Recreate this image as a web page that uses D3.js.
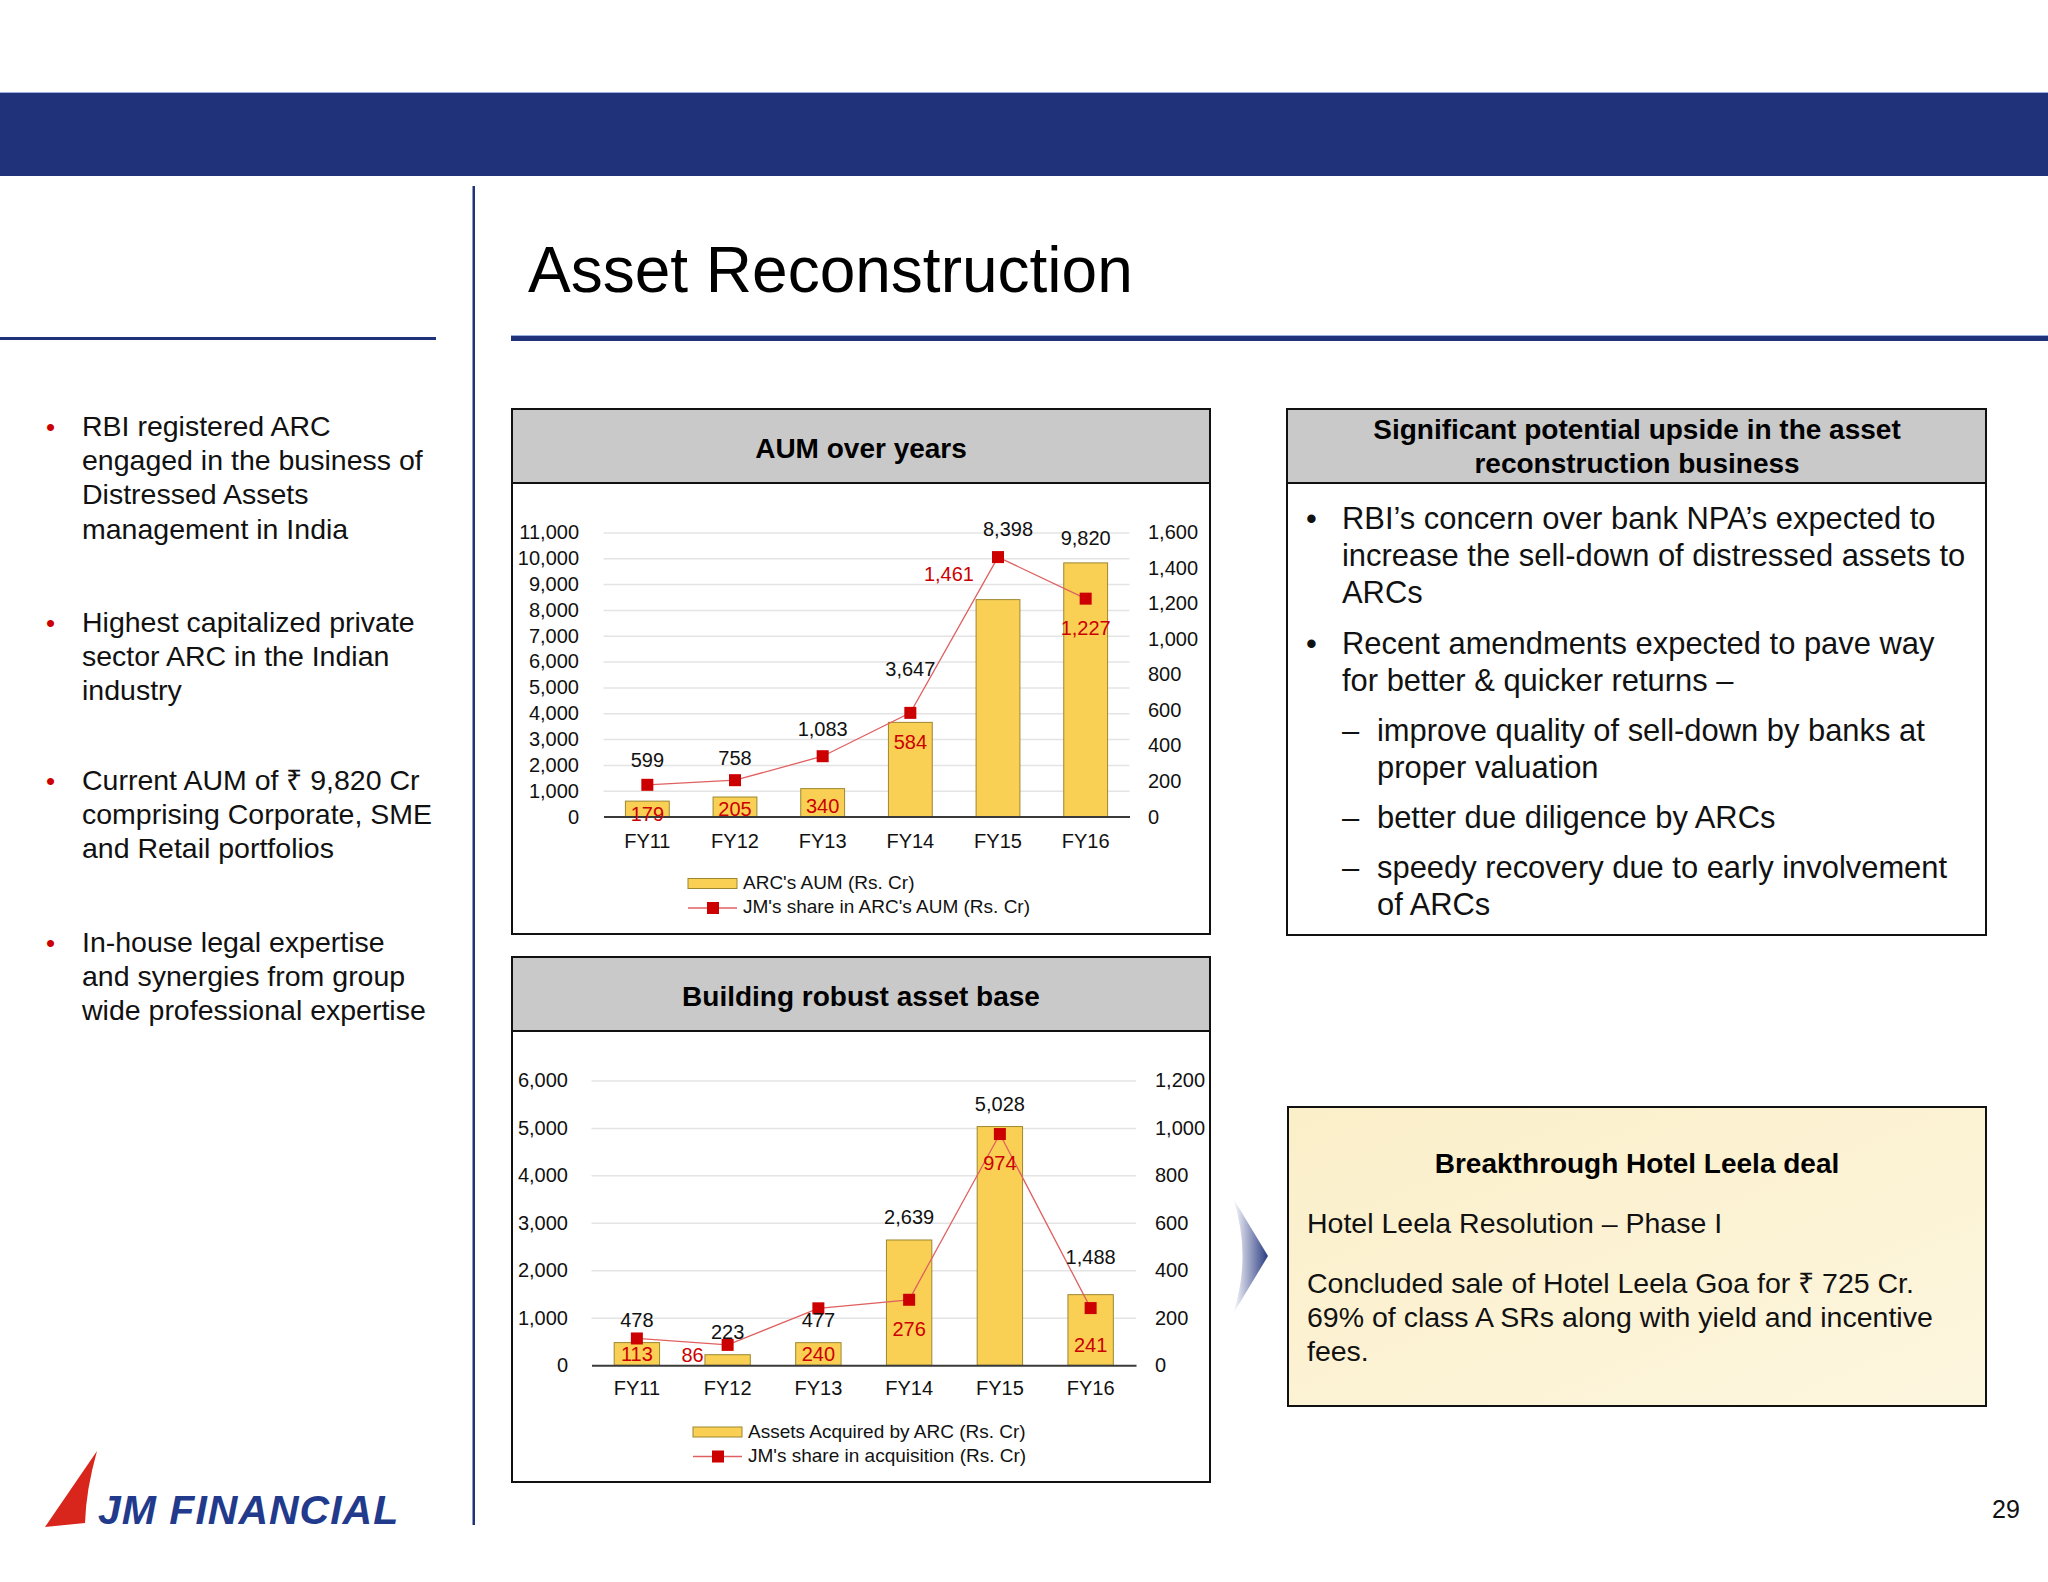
<!DOCTYPE html>
<html>
<head>
<meta charset="utf-8">
<script src="https://cdn.jsdelivr.net/npm/d3@7"></script>
<style>
  body { margin: 0; background: #fff; }
  svg text { font-family: Arial, "Liberation Sans", sans-serif; }
</style>
</head>
<body>
<div id="slide"></div>
<script>
// chart data
var years = ["FY11", "FY12", "FY13", "FY14", "FY15", "FY16"];
var arcAum = [599, 758, 1083, 3647, 8398, 9820];
var jmAumShare = [179, 205, 340, 584, 1461, 1227];
var assetsAcquired = [478, 223, 477, 2639, 5028, 1488];
var jmAcqShare = [113, 86, 240, 276, 974, 241];

var aumLeftTicks = [0, 1000, 2000, 3000, 4000, 5000, 6000, 7000, 8000, 9000, 10000, 11000];
var aumRightTicks = [0, 200, 400, 600, 800, 1000, 1200, 1400, 1600];
var acqLeftTicks = [0, 1000, 2000, 3000, 4000, 5000, 6000];
var acqRightTicks = [0, 200, 400, 600, 800, 1000, 1200];

// where the red data labels sit (excel style placement)
var jmAumLabelPos = ["below", "below", "base", "below", "left", "below"];
var jmAcqLabelPos = ["base", "left", "base", "below", "below", "below"];

var navy = "#20327a";
var barFill = "#f9d054";
var barStroke = "#9c8730";
var red = "#cc0000";

var svg = d3.select("#slide")
  .append("svg")
  .attr("width", 2048)
  .attr("height", 1582);

// ---- slide frame ----
svg.append("rect").attr("x", 0).attr("y", 92).attr("width", 2048).attr("height", 1.5).attr("fill", "#9ab0dc");
svg.append("rect").attr("x", 0).attr("y", 93).attr("width", 2048).attr("height", 83).attr("fill", navy);

svg.append("rect").attr("x", 0).attr("y", 337).attr("width", 436).attr("height", 3).attr("fill", navy);
svg.append("rect").attr("x", 472.5).attr("y", 186).attr("width", 2.5).attr("height", 1339).attr("fill", navy);
svg.append("rect").attr("x", 511).attr("y", 335).attr("width", 1537).attr("height", 1.2).attr("fill", "#9ab0dc");
svg.append("rect").attr("x", 511).attr("y", 336).attr("width", 1537).attr("height", 5).attr("fill", navy);

svg.append("text")
  .attr("x", 528).attr("y", 292)
  .style("font-size", "64px")
  .text("Asset Reconstruction");

// ---- left bullets ----
var leftBullets = [
  { y: 436, lines: ["RBI registered ARC", "engaged in the business of", "Distressed Assets", "management in India"] },
  { y: 632, lines: ["Highest capitalized private", "sector ARC in the Indian", "industry"] },
  { y: 790, lines: ["Current AUM of  \u20b9 9,820 Cr", "comprising Corporate, SME", "and Retail portfolios"] },
  { y: 952, lines: ["In-house legal expertise", "and synergies from group", "wide professional expertise"] }
];
leftBullets.forEach(function(b) {
  svg.append("text")
    .attr("x", 46).attr("y", b.y)
    .style("font-size", "26px").attr("fill", red)
    .text("\u2022");
  b.lines.forEach(function(l, i) {
    svg.append("text")
      .attr("x", 82).attr("y", b.y + i * 34.2)
      .style("font-size", "28.5px").attr("fill", "#111")
      .text(l);
  });
});

// ---- boxed panel helper ----
function panel(x, y, w, h, headH, fill) {
  var g = svg.append("g");
  g.append("rect").attr("x", x).attr("y", y).attr("width", w).attr("height", h)
    .attr("fill", fill || "#fff").attr("stroke", "#111").attr("stroke-width", 2);
  if (headH) {
    g.append("rect").attr("x", x).attr("y", y).attr("width", w).attr("height", headH)
      .attr("fill", "#c9c9c9").attr("stroke", "#111").attr("stroke-width", 2);
  }
  return g;
}

// ---- combo chart ----
function drawCombo(cfg) {
  var g = panel(cfg.box.x, cfg.box.y, cfg.box.w, cfg.box.h, cfg.box.headH);

  g.append("text")
    .attr("x", cfg.box.x + cfg.box.w / 2).attr("y", cfg.titleY)
    .attr("text-anchor", "middle")
    .style("font-size", "28px").style("font-weight", "bold")
    .text(cfg.title);

  var p = cfg.plot;
  var xScale = d3.scaleBand().domain(years).range([p.x0, p.x1])
    .paddingInner(0.5).paddingOuter(0.25);
  var yLeft = d3.scaleLinear().domain([0, d3.max(cfg.leftTicks)]).range([p.y0, p.y1]);
  var yRight = d3.scaleLinear().domain([0, d3.max(cfg.rightTicks)]).range([p.y0, p.y1]);
  var cx = function(d, i) { return xScale(years[i]) + xScale.bandwidth() / 2; };

  // gridlines
  var grid = g.append("g")
    .attr("transform", `translate(${p.x0},0)`)
    .call(d3.axisLeft(yLeft).tickValues(cfg.leftTicks.slice(1)).tickSize(-(p.x1 - p.x0)).tickFormat(""));
  grid.select(".domain").remove();
  grid.selectAll(".tick line").attr("stroke", "#e4e4e4").attr("stroke-width", 1.5);

  // left axis labels
  var left = g.append("g")
    .attr("transform", `translate(${p.x0},0)`)
    .call(d3.axisLeft(yLeft).tickValues(cfg.leftTicks).tickSize(0)
      .tickPadding(p.x0 - cfg.leftLabelX).tickFormat(d3.format(",")));
  left.select(".domain").remove();
  left.selectAll("text").style("font-size", "20px").attr("fill", "#111");

  // right axis labels
  var right = g.append("g")
    .attr("transform", `translate(${p.x1},0)`)
    .call(d3.axisRight(yRight).tickValues(cfg.rightTicks).tickSize(0)
      .tickPadding(cfg.rightLabelX - p.x1).tickFormat(d3.format(",")));
  right.select(".domain").remove();
  right.selectAll("text").style("font-size", "20px").attr("fill", "#111");

  // bars
  g.selectAll(".bar")
    .data(cfg.bars)
    .enter()
    .append("rect")
    .attr("x", (d, i) => xScale(years[i]))
    .attr("y", d => yLeft(d))
    .attr("width", xScale.bandwidth())
    .attr("height", d => p.y0 - yLeft(d))
    .attr("fill", barFill)
    .attr("stroke", barStroke)
    .attr("stroke-width", 1);

  // x axis
  var xAxis = g.append("g")
    .attr("transform", `translate(0,${p.y0})`)
    .call(d3.axisBottom(xScale).tickSize(0).tickSizeOuter(0).tickPadding(cfg.xLabelPad));
  xAxis.select(".domain").attr("stroke", "#3a3a3a").attr("stroke-width", 2);
  xAxis.selectAll("text").style("font-size", "20px").attr("fill", "#111");

  // line + markers
  var line = d3.line().x(cx).y(d => yRight(d));
  g.append("path")
    .datum(cfg.line)
    .attr("d", line)
    .attr("fill", "none")
    .attr("stroke", "#e06060")
    .attr("stroke-width", 1.3);

  g.selectAll(".mk")
    .data(cfg.line)
    .enter()
    .append("rect")
    .attr("x", (d, i) => cx(d, i) - 6)
    .attr("y", d => yRight(d) - 6)
    .attr("width", 12).attr("height", 12)
    .attr("fill", red);

  // bar value labels (a few were dragged by hand in the original)
  g.selectAll(".barLabel")
    .data(cfg.bars)
    .enter()
    .append("text")
    .attr("x", (d, i) => cx(d, i) + (cfg.labelShiftX[i] || 0))
    .attr("y", function(d, i) {
      var top = yLeft(d);
      var base = cfg.avoidMarker ? Math.min(top, yRight(cfg.line[i])) - 18 : top - 16;
      return base - (cfg.labelLift[i] || 0);
    })
    .attr("text-anchor", "middle")
    .style("font-size", "20px").attr("fill", "#111")
    .text(d => d3.format(",")(d));

  // line value labels
  g.selectAll(".lineLabel")
    .data(cfg.line)
    .enter()
    .append("text")
    .attr("x", function(d, i) {
      return cfg.labelPos[i] === "left" ? cx(d, i) - 24 : cx(d, i);
    })
    .attr("y", function(d, i) {
      var my = yRight(d);
      if (cfg.labelPos[i] === "base") return p.y0 - 4;
      if (cfg.labelPos[i] === "left") return Math.min(my + 24, p.y0 - 3);
      return my + 36 + (cfg.redDrop[i] || 0);
    })
    .attr("text-anchor", (d, i) => cfg.labelPos[i] === "left" ? "end" : "middle")
    .style("font-size", "20px").attr("fill", red)
    .text(d => d3.format(",")(d));

  // legend
  var lg = cfg.legend;
  g.append("rect").attr("x", lg.x).attr("y", lg.y).attr("width", 49).attr("height", 10)
    .attr("fill", barFill).attr("stroke", barStroke);
  g.append("text").attr("x", lg.x + 55).attr("y", lg.y + 10.5)
    .style("font-size", "19px").attr("fill", "#111").text(lg.barText);
  g.append("line").attr("x1", lg.x).attr("x2", lg.x + 49)
    .attr("y1", lg.y + 29.5).attr("y2", lg.y + 29.5)
    .attr("stroke", "#e06060").attr("stroke-width", 1.3);
  g.append("rect").attr("x", lg.x + 19).attr("y", lg.y + 23.5).attr("width", 12).attr("height", 12)
    .attr("fill", red);
  g.append("text").attr("x", lg.x + 55).attr("y", lg.y + 34.5)
    .style("font-size", "19px").attr("fill", "#111").text(lg.lineText);
}

drawCombo({
  box: { x: 512, y: 409, w: 698, h: 525, headH: 74 },
  title: "AUM over years",
  titleY: 458,
  plot: { x0: 603.5, x1: 1129.5, y0: 816.6, y1: 532.4 },
  leftTicks: aumLeftTicks,
  rightTicks: aumRightTicks,
  leftLabelX: 579,
  rightLabelX: 1148,
  xLabelPad: 17,
  bars: arcAum,
  line: jmAumShare,
  labelPos: jmAumLabelPos,
  avoidMarker: true,
  labelLift: [0, -3, 2, 19, 3, 0],
  labelShiftX: [0, 0, 0, 0, 10, 0],
  redDrop: [0, 0, 0, 0, 0, 0],
  legend: { x: 688, y: 878.5, barText: "ARC's AUM (Rs. Cr)", lineText: "JM's share in ARC's AUM (Rs. Cr)" }
});

drawCombo({
  box: { x: 512, y: 957, w: 698, h: 525, headH: 74 },
  title: "Building robust asset base",
  titleY: 1005.7,
  plot: { x0: 591.5, x1: 1136, y0: 1365.3, y1: 1080.4 },
  leftTicks: acqLeftTicks,
  rightTicks: acqRightTicks,
  leftLabelX: 568,
  rightLabelX: 1155,
  xLabelPad: 16,
  bars: assetsAcquired,
  line: jmAcqShare,
  labelPos: jmAcqLabelPos,
  avoidMarker: false,
  labelLift: [0, 0, 0, 0, 0, 15],
  labelShiftX: [0, 0, 0, 0, 0, 0],
  redDrop: [0, 0, 0, 0, 0, 8],
  legend: { x: 693, y: 1427, barText: "Assets Acquired by ARC (Rs. Cr)", lineText: "JM's share in acquisition (Rs. Cr)" }
});

// ---- right text panel ----
panel(1287, 409, 699, 526, 74);
svg.append("text").attr("x", 1637).attr("y", 439).attr("text-anchor", "middle")
  .style("font-size", "28px").style("font-weight", "bold").text("Significant potential upside in the asset");
svg.append("text").attr("x", 1637).attr("y", 472.6).attr("text-anchor", "middle")
  .style("font-size", "28px").style("font-weight", "bold").text("reconstruction business");

var rightItems = [
  { mark: "\u2022", mx: 1306, tx: 1342, y: 529, lines: ["RBI\u2019s concern over bank NPA\u2019s expected to", "increase the sell-down of distressed assets to", "ARCs"] },
  { mark: "\u2022", mx: 1306, tx: 1342, y: 654, lines: ["Recent amendments expected to pave way", "for better & quicker returns \u2013"] },
  { mark: "\u2013", mx: 1342, tx: 1377, y: 741, lines: ["improve quality of sell-down by banks at", "proper valuation"] },
  { mark: "\u2013", mx: 1342, tx: 1377, y: 828, lines: ["better due diligence by ARCs"] },
  { mark: "\u2013", mx: 1342, tx: 1377, y: 878, lines: ["speedy recovery due to early involvement", "of ARCs"] }
];
rightItems.forEach(function(it) {
  svg.append("text").attr("x", it.mx).attr("y", it.y)
    .style("font-size", "30.9px").attr("fill", "#111").text(it.mark);
  it.lines.forEach(function(l, i) {
    svg.append("text").attr("x", it.tx).attr("y", it.y + i * 37)
      .style("font-size", "30.9px").attr("fill", "#111").text(l);
  });
});

// ---- hotel leela box ----
var defs = svg.append("defs");
var cream = defs.append("linearGradient").attr("id", "cream").attr("x1", "0").attr("y1", "0").attr("x2", "1").attr("y2", "1");
cream.append("stop").attr("offset", "0%").attr("stop-color", "#fbefc9");
cream.append("stop").attr("offset", "100%").attr("stop-color", "#fdf6df");
var chev = defs.append("linearGradient").attr("id", "chev").attr("x1", "0").attr("y1", "0").attr("x2", "1").attr("y2", "0");
chev.append("stop").attr("offset", "0%").attr("stop-color", "#ffffff");
chev.append("stop").attr("offset", "100%").attr("stop-color", "#2a3a82");

svg.append("rect").attr("x", 1288).attr("y", 1107).attr("width", 698).attr("height", 299)
  .attr("fill", "url(#cream)").attr("stroke", "#111").attr("stroke-width", 2);
svg.append("path")
  .attr("d", "M1233,1198 L1268,1256 L1233,1314 Q1252,1256 1233,1198 Z")
  .attr("fill", "url(#chev)");

svg.append("text").attr("x", 1637).attr("y", 1172.7).attr("text-anchor", "middle")
  .style("font-size", "28px").style("font-weight", "bold").text("Breakthrough Hotel Leela deal");
var hotelLines = [
  { y: 1232.7, t: "Hotel Leela Resolution \u2013 Phase I" },
  { y: 1292.7, t: "Concluded sale of Hotel Leela Goa for \u20b9 725 Cr." },
  { y: 1326.7, t: "69% of class A SRs along with yield and incentive" },
  { y: 1360.7, t: "fees." }
];
hotelLines.forEach(function(l) {
  svg.append("text").attr("x", 1307).attr("y", l.y)
    .style("font-size", "28.5px").attr("fill", "#111").text(l.t);
});

// ---- logo and page number ----
svg.append("path")
  .attr("d", "M45,1527 L97,1451 Q86,1490 85,1523 Z")
  .attr("fill", "#d9261c");
svg.append("text").attr("x", 98).attr("y", 1524)
  .style("font-size", "41px").style("font-weight", "bold").style("font-style", "italic")
  .style("letter-spacing", "1px")
  .attr("fill", "#223a8c").text("JM FINANCIAL");

svg.append("text").attr("x", 1992).attr("y", 1518)
  .style("font-size", "25px").attr("fill", "#111").text("29");
</script>
</body>
</html>
